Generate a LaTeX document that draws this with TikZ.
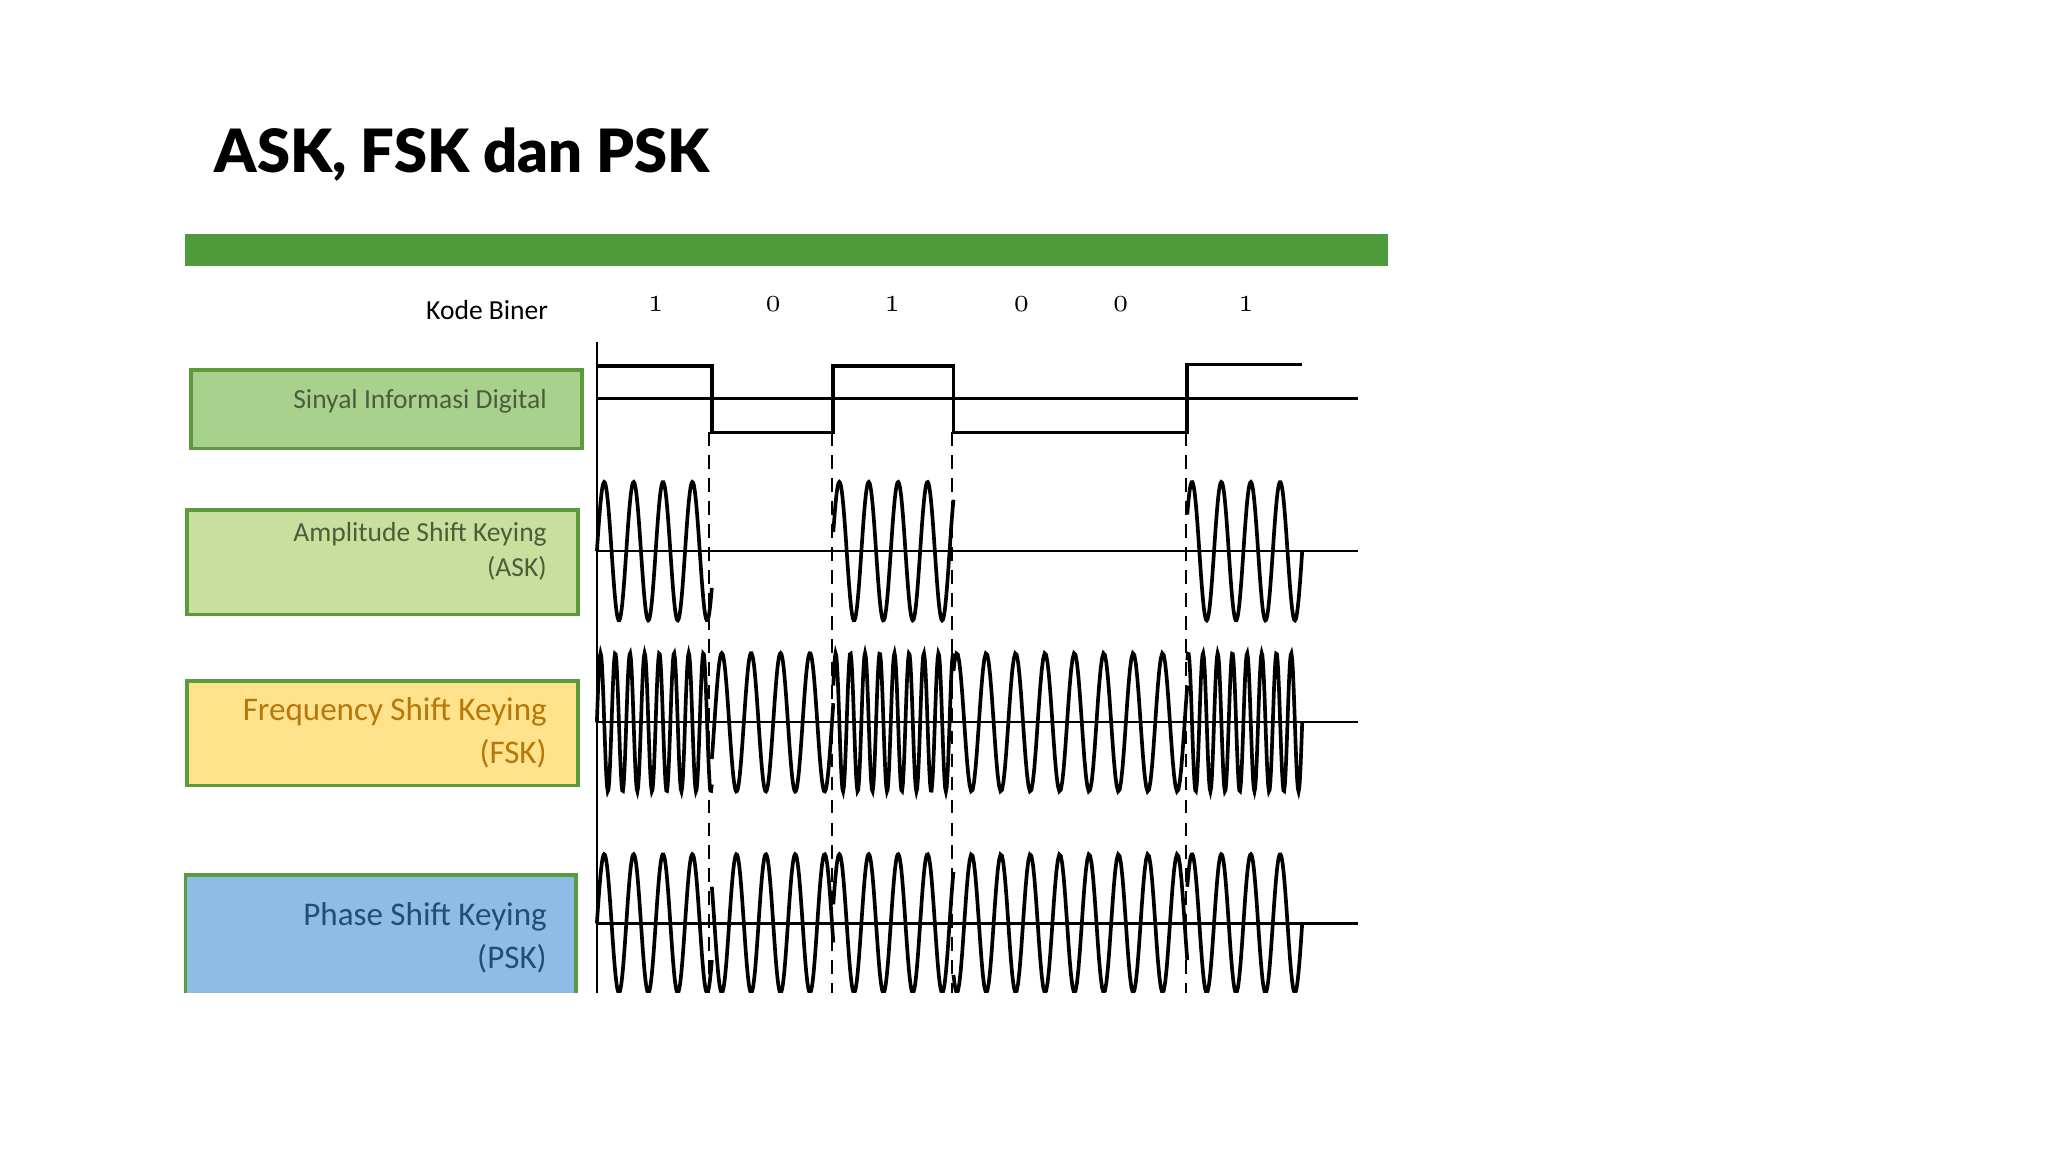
\documentclass[tikz,border=0pt]{standalone}
\usepackage{fontspec}
\setmainfont{Carlito}
\newfontfamily\titlefont{Lato Black}
\definecolor{barg}{HTML}{4F9A3B}
\definecolor{sinf}{HTML}{A9D18E}
\definecolor{askf}{HTML}{C9DF9E}
\definecolor{fskf}{HTML}{FFE38C}
\definecolor{pskf}{HTML}{8DBDE6}
\definecolor{bord}{HTML}{5B9B3C}
\definecolor{sint}{HTML}{4A5E3A}
\definecolor{fskt}{HTML}{B7770A}
\definecolor{pskt}{HTML}{1F4E79}
\tikzset{
 lab/.style={draw=bord,line width=0.8pt,anchor=north west,inner sep=0pt},
 ltext/.style={anchor=east,align=right,font=\fontsize{6}{7.5}\selectfont},
 bit/.style={font=\fontfamily{lmr}\fontsize{5}{6}\selectfont},
 sig/.style={black,line width=0.8pt},
 ax/.style={black,line width=0.5pt},
 dsh/.style={black,line width=0.5pt,dashed,dash pattern=on 3pt off 2pt}
}
% \mywave{x0}{x1}{yc}{cycles per 90px}{phase deg}
\newcommand{\mywave}[5]{%
 \pgfmathsetmacro{\ph}{mod(4*#4*(#1-457),360)+#5}%
 \draw[sig] plot[domain=0:{#2-#1},samples=160] ({\x+#1},{#3-53*sin(4*#4*\x+\ph)});}
\begin{document}
\begin{tikzpicture}[x=0.1mm,y=-0.1mm]
\useasboundingbox (0,0) rectangle (1568,882);
\fill[white] (0,0) rectangle (1568,882);
\node[anchor=west,font=\titlefont\fontsize{13}{15}\selectfont] (title) at (152,118) {ASK, FSK dan PSK};
\fill[barg] (142,179) rectangle (1063,204);
\node[anchor=east,font=\fontsize{6}{7}\selectfont] (kb) at (432,237) {Kode Biner};
\foreach \xx/\b [count=\i] in {502/1,592/0,683/1,782/0,858/0,954/1}
  \node[bit] (b\i) at (\xx,233) {\b};
% label boxes
\node[lab,fill=sinf,minimum width=299*0.1mm,minimum height=60*0.1mm] (s) at (145,282) {};
\node[ltext,text=sint] at (431,307) {Sinyal Informasi Digital};
\node[lab,fill=askf,minimum width=299*0.1mm,minimum height=80*0.1mm] (a) at (142,389) {};
\node[ltext,text=sint] at (431,422) {Amplitude Shift Keying\\(ASK)};
\node[lab,fill=fskf,minimum width=299*0.1mm,minimum height=80*0.1mm] (f) at (142,520) {};
\node[ltext,text=fskt,font=\fontsize{7.2}{9.4}\selectfont] at (431,561) {Frequency Shift Keying\\(FSK)};
\fill[pskf] (142,670) rectangle (441,760);
\draw[bord,line width=0.8pt] (142,760) -- (142,670) -- (441,670) -- (441,760);
\node[ltext,text=pskt,font=\fontsize{7.2}{9.4}\selectfont] at (431,718) {Phase Shift Keying\\(PSK)};
% axes
\draw[ax] (457,262) -- (457,760);
\draw[ax] (457,305) -- (1040,305);
\draw[ax] (457,422) -- (1040,422);
\draw[ax] (457,553) -- (1040,553);
\draw[ax] (457,707) -- (1040,707);
% digital
\draw[sig] (457,280) -- (545,280) -- (545,331) -- (638,331) -- (638,280) -- (730,280) -- (730,331) -- (909,331) -- (909,279) -- (997,279);
\foreach \xx in {543,637,729,908} \draw[dsh] (\xx,331) -- (\xx,760);
% ASK
\mywave{457}{545}{422}{4}{0}
\mywave{638}{730}{422}{4}{0}
\mywave{909}{997}{422}{4}{0}
% FSK
\mywave{457}{545}{553}{8}{0}
\mywave{545}{638}{553}{4}{0}
\mywave{638}{730}{553}{8}{0}
\mywave{730}{909}{553}{4}{0}
\mywave{909}{997}{553}{8}{0}
% PSK
\begin{scope}
\clip (440,640) rectangle (1050,760);
\mywave{457}{545}{707}{4}{0}
\mywave{545}{638}{707}{4}{180}
\mywave{638}{730}{707}{4}{0}
\mywave{730}{909}{707}{4}{180}
\mywave{909}{997}{707}{4}{0}
\end{scope}
\end{tikzpicture}
\end{document}
